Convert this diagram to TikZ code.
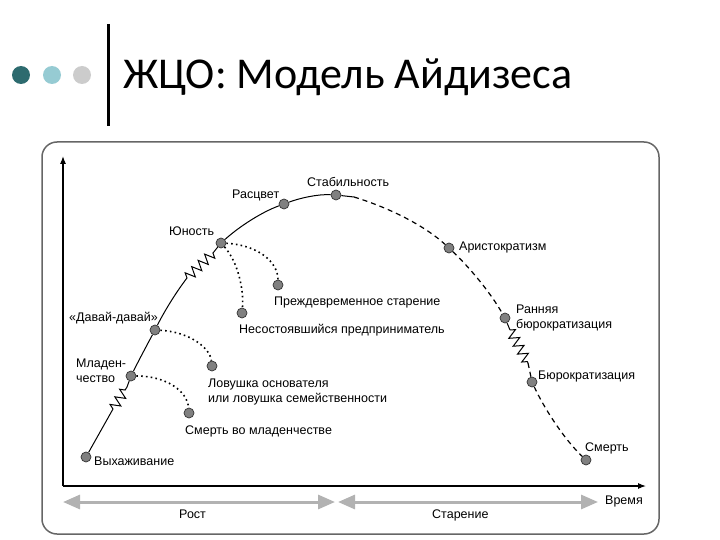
\documentclass[tikz,border=0pt]{standalone}
\usepackage{fontspec}
\setmainfont{Liberation Sans}
\newfontfamily\titlefont{Carlito}
\usetikzlibrary{arrows.meta,decorations.pathmorphing}
\definecolor{dotA}{HTML}{2D6B6F}
\definecolor{dotB}{HTML}{96CBD3}
\definecolor{dotC}{HTML}{CCCCCC}
\begin{document}
\begin{tikzpicture}[x=1pt,y=-1pt,
  pt/.style={circle,draw=black!80,fill=black!50,line width=0.7pt,minimum size=10pt,inner sep=0pt},
  lbl/.style={inner sep=0pt,anchor=base west,align=left,font=\fontsize{12.5}{14.5}\selectfont},
  curve/.style={line width=1pt},
  zz/.style={decorate,decoration={zigzag,segment length=9pt,amplitude=5pt}},
  dashline/.style={line width=1.2pt,dash pattern=on 5pt off 4pt},
  dotline/.style={line width=1.6pt,dash pattern=on 1.6pt off 3.2pt},
  phase/.style={line width=3pt,draw=black!30,{Triangle[length=17pt,width=14pt]}-{Triangle[length=17pt,width=14pt]}},
  axis/.style={line width=1.1pt,-{Latex[length=8pt,width=6pt]}},
  tdot/.style={circle,minimum size=18pt,inner sep=0pt}
]
\useasboundingbox (0,0) rectangle (720,540);
% title
\node[tdot,fill=dotA] (d1) at (21,75) {};
\node[tdot,fill=dotB] (d2) at (52,75) {};
\node[tdot,fill=dotC] (d3) at (82,75) {};
\coordinate (bt) at (108,24);
\coordinate (bb) at (108,126);
\draw[line width=3pt] (bt) -- (bb);
\node[inner sep=0pt,anchor=base west,font=\titlefont\fontsize{44}{50}\selectfont] (title) at (123,89) {ЖЦО: Модель Айдизеса};
% frame
\draw[draw=black!60,line width=1.5pt,rounded corners=15pt] (42,142) rectangle (659,534);
% axes
\coordinate (o) at (63,486);
\coordinate (ytop) at (63,156);
\coordinate (xend) at (646,486);
\draw[axis] (o) -- (ytop);
\draw[axis] (o) -- (xend);
% phases
\coordinate (r1) at (63,502);
\coordinate (r2) at (335,502);
\coordinate (s1) at (338,502);
\coordinate (s2) at (598,502);
\draw[phase] (r1) -- (r2);
\draw[phase] (s1) -- (s2);
\node[lbl] (lrost) at (179,518) {Рост};
\node[lbl] (lstar) at (432,518) {Старение};
\node[lbl] (ltime) at (605,504) {Время};
% points
\node[pt] (vyh) at (86,457) {};
\node[pt] (mlad) at (131,376) {};
\node[pt] (davai) at (155,330) {};
\node[pt] (yun) at (221,243) {};
\node[pt] (rasc) at (284,204) {};
\node[pt] (stab) at (336,195) {};
\node[pt] (arist) at (449,248) {};
\node[pt] (rann) at (505,318) {};
\node[pt] (bur) at (532,382) {};
\node[pt] (smert) at (586,460) {};
\node[pt] (e1) at (189,413) {};
\node[pt] (e2) at (212,366) {};
\node[pt] (e3) at (242,313) {};
\node[pt] (e4) at (278,285) {};
% main curve
\coordinate (z1a) at (113,409);
\coordinate (z1b) at (127,387);
\coordinate (z2a) at (187,278);
\coordinate (z2b) at (213,253);
\coordinate (p1) at (354,197);
\coordinate (z3a) at (510,330);
\coordinate (z3b) at (528,363);
\draw[curve] (vyh) -- (z1a);
\draw[curve,zz] (z1a) -- (z1b);
\draw[curve] (z1b) -- (mlad);
\draw[curve] (mlad) .. controls (140,358) and (147,345) .. (davai);
\draw[curve] (davai) .. controls (165,310) and (177,291) .. (z2a);
\draw[curve,zz] (z2a) -- (z2b);
\draw[curve] (z2b) -- (yun);
\draw[curve] (yun) .. controls (240,226) and (262,212) .. (rasc);
\draw[curve] (rasc) .. controls (300,198) and (318,194) .. (stab);
\draw[curve] (stab) -- (p1);
\draw[dashline] (p1) .. controls (390,208) and (425,226) .. (arist);
\draw[dashline] (arist) .. controls (470,268) and (490,292) .. (rann);
\draw[curve] (rann) -- (z3a);
\draw[curve,zz] (z3a) -- (z3b);
\draw[dashline] (z3b) -- (bur);
\draw[dashline] (bur) .. controls (545,410) and (565,440) .. (smert);
% side branches
\draw[dotline] (mlad) .. controls (165,376) and (187,390) .. (e1);
\draw[dotline] (davai) .. controls (190,332) and (210,348) .. (e2);
\draw[dotline] (yun) .. controls (238,262) and (244,290) .. (e3);
\draw[dotline] (yun) .. controls (258,245) and (278,262) .. (e4);
% labels
\node[lbl] (lvyh) at (94,465) {Выхаживание};
\node[lbl] (lmlad) at (76,382) {Младен-\\чество};
\node[lbl] (ldavai) at (69,321) {«Давай-давай»};
\node[lbl] (lyun) at (169,236) {Юность};
\node[lbl] (lrasc) at (232,199) {Расцвет};
\node[lbl] (lstab) at (307,187) {Стабильность};
\node[lbl] (larist) at (459,251) {Аристократизм};
\node[lbl] (lrann) at (516,328) {Ранняя\\бюрократизация};
\node[lbl] (lbur) at (538,379) {Бюрократизация};
\node[lbl] (lsmert) at (585,451) {Смерть};
\node[lbl] (le1) at (185,434) {Смерть во младенчестве};
\node[lbl] (le2) at (208,402) {Ловушка основателя\\или ловушка семейственности};
\node[lbl] (le3) at (239,333) {Несостоявшийся предприниматель};
\node[lbl] (le4) at (274,305) {Преждевременное старение};
\end{tikzpicture}
\end{document}
